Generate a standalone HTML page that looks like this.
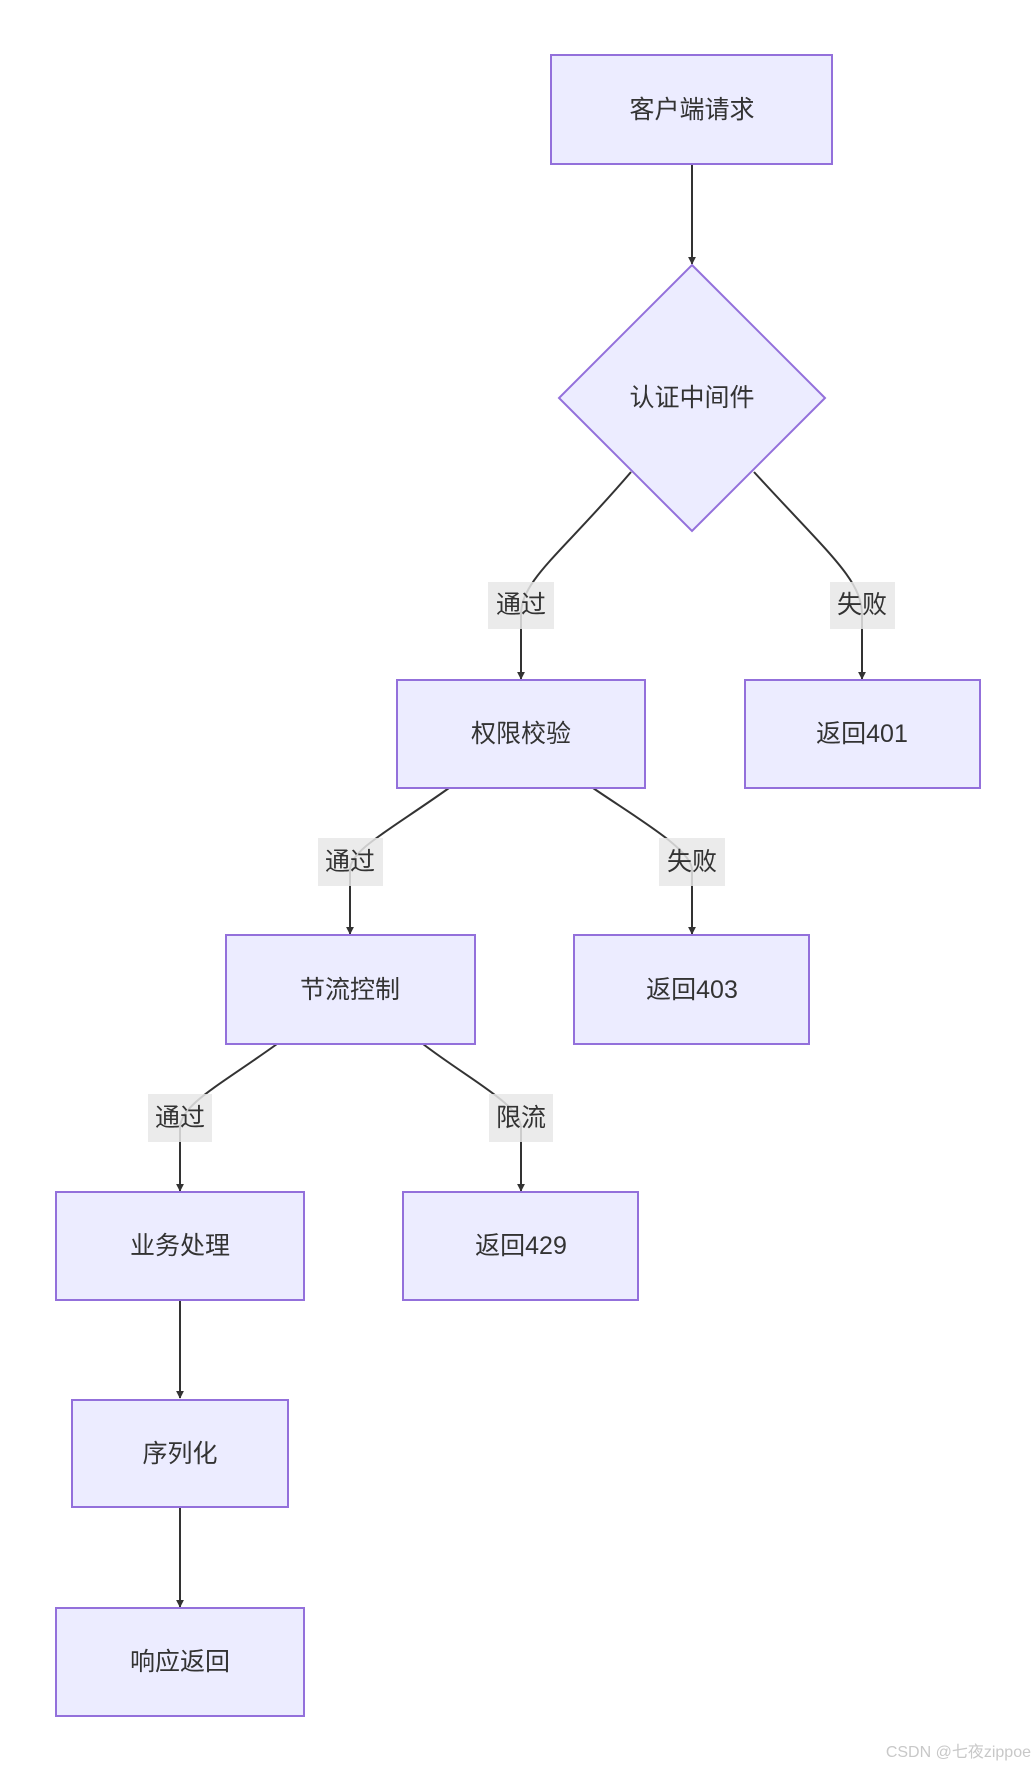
<!DOCTYPE html>
<html><head><meta charset="utf-8">
<style>
html,body{margin:0;padding:0;background:#fff;}
svg{display:block;}
text{font-family:"Liberation Sans","Noto Sans CJK SC",sans-serif;fill:#333;}
</style></head>
<body>
<svg width="1035" height="1771" viewBox="0 0 1035 1771" xmlns="http://www.w3.org/2000/svg">
<defs>
<marker id="ah" viewBox="0 0 10 10" refX="9" refY="5" markerWidth="8" markerHeight="8" markerUnits="userSpaceOnUse" orient="auto">
<path d="M0,0 L10,5 L0,10 z" fill="#333"/>
</marker>
</defs>
<g fill="none" stroke="#333" stroke-width="2">
<path d="M692,164 L692,264" marker-end="url(#ah)" transform="scale(1)" />
<path d="M631,472 C560,555 521,580 521,615 L521,679" marker-end="url(#ah)"/>
<path d="M754,472 C830,555 862,580 862,615 L862,679" marker-end="url(#ah)"/>
<path d="M449,788 C390,830 350,850 350,870 L350,934" marker-end="url(#ah)"/>
<path d="M593,788 C640,820 692,850 692,870 L692,934" marker-end="url(#ah)"/>
<path d="M277,1044 C220,1085 180,1105 180,1128 L180,1191" marker-end="url(#ah)"/>
<path d="M423,1044 C470,1080 521,1105 521,1128 L521,1191" marker-end="url(#ah)"/>
<path d="M180,1300 L180,1398" marker-end="url(#ah)"/>
<path d="M180,1507 L180,1607" marker-end="url(#ah)"/>
</g>
<g fill="#ECECFF" stroke="#9370DB" stroke-width="2">
<rect x="551" y="55" width="281" height="109"/>
<polygon points="692,265 825,398 692,531 559,398"/>
<rect x="397" y="680" width="248" height="108"/>
<rect x="745" y="680" width="235" height="108"/>
<rect x="226" y="935" width="249" height="109"/>
<rect x="574" y="935" width="235" height="109"/>
<rect x="56" y="1192" width="248" height="108"/>
<rect x="403" y="1192" width="235" height="108"/>
<rect x="72" y="1400" width="216" height="107"/>
<rect x="56" y="1608" width="248" height="108"/>
</g>
<g fill="#e8e8e8" opacity="0.85">
<rect x="488" y="582" width="66" height="47"/>
<rect x="830" y="582" width="65" height="47"/>
<rect x="318" y="838" width="65" height="48"/>
<rect x="659" y="838" width="66" height="48"/>
<rect x="148" y="1094" width="64" height="48"/>
<rect x="489" y="1094" width="64" height="48"/>
</g>
<g font-size="25" text-anchor="middle" dominant-baseline="central">
<text x="692" y="110">客户端请求</text>
<text x="692" y="398">认证中间件</text>
<text x="521" y="734">权限校验</text>
<text x="862" y="734">返回401</text>
<text x="350" y="990">节流控制</text>
<text x="692" y="990">返回403</text>
<text x="180" y="1246">业务处理</text>
<text x="521" y="1246">返回429</text>
<text x="180" y="1454">序列化</text>
<text x="180" y="1662">响应返回</text>
<text x="521" y="605">通过</text>
<text x="862" y="605">失败</text>
<text x="350" y="862">通过</text>
<text x="692" y="862">失败</text>
<text x="180" y="1118">通过</text>
<text x="521" y="1118">限流</text>
</g>
<text x="1031" y="1757" font-size="16" text-anchor="end" style="fill:#c8c8c8">CSDN @七夜zippoe</text>
</svg>
</body></html>
